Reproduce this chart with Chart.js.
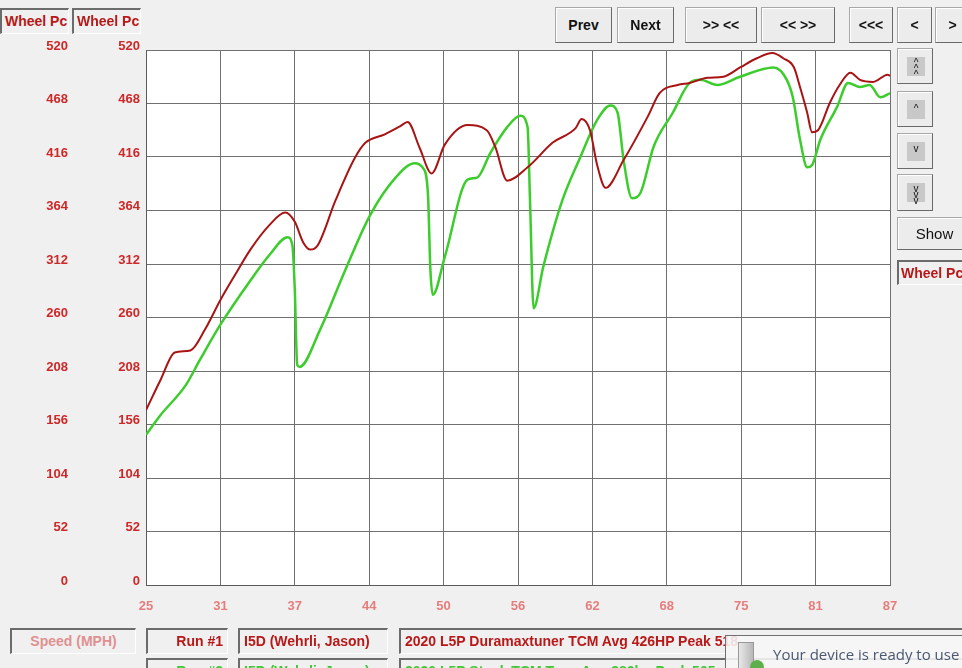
<!DOCTYPE html>
<html>
<head>
<meta charset="utf-8">
<script src="https://cdn.jsdelivr.net/npm/chart.js@4"></script>
<style>
  html, body { margin: 0; padding: 0; }
  body {
    width: 962px; height: 668px; overflow: hidden; position: relative;
    background: #f0f0f0; font-family: "Liberation Sans", Arial, sans-serif;
  }
  #dyno { position: absolute; left: 0; top: 0; }
  .box {
    position: absolute; box-sizing: border-box; background: #f0f0f0;
    border-top: 2px solid #6c6c6c; border-left: 2px solid #6c6c6c;
    border-bottom: 1px solid #ffffff; border-right: 1px solid #ffffff;
    font-weight: bold; font-size: 14px; line-height: 22px; padding: 0 4px;
    white-space: nowrap; overflow: hidden;
  }
  .red { color: #b81818; }
  .green { color: #3cc832; }
  .pink { color: #e09090; }
  .btn {
    position: absolute; box-sizing: border-box; background: #ececec;
    border: 1px solid #a8a8a8; border-bottom-color: #6a6a6a; border-right-color: #6a6a6a;
    box-shadow: inset 1px 1px 0 #ffffff;
    font-size: 14px; font-weight: bold; color: #111; text-align: center;
  }
  .sq {
    position: absolute; left: 9px; top: 8px; width: 18px; height: 19px; background: #c8c8c8;
    font-size: 10px; line-height: 6px; color: #111; font-weight: normal; padding-top: 3px; box-sizing: border-box;
  }
  #toast {
    position: absolute; left: 725px; top: 635px; width: 245px; height: 40px; box-sizing: border-box;
    border: 1px solid #707070; background: rgba(246,246,246,0.88);
  }
  #toast span {
    position: absolute; left: 47px; top: 8px; font-family: "Open Sans", "Noto Sans", sans-serif;
    font-size: 15px; color: #4a5870; white-space: nowrap;
  }
  #toast i {
    position: absolute; left: 12px; top: 6px; width: 14px; height: 30px;
    background: linear-gradient(90deg, #e8e8e8, #b8b8b8); border: 1px solid #999;
  }
  #toast b {
    position: absolute; left: 24px; top: 24px; width: 14px; height: 14px; border-radius: 7px; background: #5cb04a;
  }
</style>
</head>
<body>
<canvas id="dyno" width="962" height="668"></canvas>

<div class="box red" style="left:0;top:8px;width:69px;height:26px;padding-left:3px;">Wheel Pc</div>
<div class="box red" style="left:72px;top:8px;width:69px;height:26px;padding-left:3px;">Wheel Pc</div>

<div class="btn" style="left:555px;top:7px;width:57px;height:36px;line-height:34px;">Prev</div>
<div class="btn" style="left:617px;top:7px;width:57px;height:36px;line-height:34px;">Next</div>
<div class="btn" style="left:685px;top:7px;width:72px;height:36px;line-height:34px;">&gt;&gt; &lt;&lt;</div>
<div class="btn" style="left:761px;top:7px;width:74px;height:36px;line-height:34px;">&lt;&lt; &gt;&gt;</div>
<div class="btn" style="left:849px;top:7px;width:44px;height:36px;line-height:34px;">&lt;&lt;&lt;</div>
<div class="btn" style="left:897px;top:7px;width:35px;height:36px;line-height:34px;">&lt;</div>
<div class="btn" style="left:935px;top:7px;width:35px;height:36px;line-height:34px;">&gt;</div>

<div class="btn" style="left:897px;top:48px;width:36px;height:36px;"><div class="sq">^<br>^<br>^</div></div>
<div class="btn" style="left:897px;top:91px;width:36px;height:36px;"><div class="sq" style="padding-top:6px">^</div></div>
<div class="btn" style="left:897px;top:133px;width:36px;height:36px;"><div class="sq" style="padding-top:4px">v</div></div>
<div class="btn" style="left:897px;top:174px;width:36px;height:37px;"><div class="sq">v<br>v<br>v</div></div>
<div class="btn" style="left:897px;top:217px;width:75px;height:33px;line-height:31px;font-weight:normal;font-size:15px;">Show</div>
<div class="box red" style="left:897px;top:260px;width:70px;height:25px;padding-left:2px;">Wheel Pc</div>

<div class="box pink" style="left:10px;top:628px;width:126px;height:26px;text-align:center;">Speed (MPH)</div>
<div class="box red" style="left:146px;top:628px;width:82px;height:26px;text-align:right;">Run #1</div>
<div class="box red" style="left:238px;top:628px;width:150px;height:26px;">I5D (Wehrli, Jason)</div>
<div class="box red" style="left:399px;top:628px;width:580px;height:26px;">2020 L5P Duramaxtuner TCM Avg 426HP Peak 518</div>
<div class="box green" style="left:146px;top:658px;width:82px;height:26px;text-align:right;">Run #2</div>
<div class="box green" style="left:238px;top:658px;width:150px;height:26px;">I5D (Wehrli, Jason)</div>
<div class="box green" style="left:399px;top:658px;width:580px;height:26px;">2020 L5P Stock TCM Tune Avg 386hp Peak 505</div>

<div id="toast"><i></i><b></b><span>Your device is ready to use</span></div>

<script>
// speed (MPH) ticks shown under the graph
const speedTicks = [25, 31, 37, 44, 50, 56, 62, 68, 75, 81, 87];
// wheel power tick labels
const powerTicks = [0, 52, 104, 156, 208, 260, 312, 364, 416, 468, 520];

// Run #1 - Duramaxtuner TCM (red)
const run1Speed = [25.0, 26.2, 27.4, 28.7, 29.9, 31.2, 32.4, 33.7, 35.3, 36.6, 37.4, 38.1, 38.7, 39.3, 40.8, 42.4, 43.3, 44.9, 46.2, 46.8,
  47.8, 48.8, 49.9, 51.8, 53.4, 54.1, 55.1, 56.8, 58.9, 60.8, 61.3, 62.0, 62.6, 63.3, 64.8, 66.8, 67.8, 69.3, 70.3, 71.8,
  73.1, 74.5, 75.9, 77.2, 78.1, 79.0, 79.5, 80.1, 80.5, 81.0, 82.0, 82.8, 83.7, 84.5, 85.6, 86.8, 87.0];
const run1Power = [170, 199, 226, 228, 248, 277, 301, 326, 350, 362, 353, 333, 326, 330, 374, 415, 430, 438, 446, 450,
  425, 400, 428, 447, 442, 426, 393, 406, 430, 444, 453, 442, 408, 386, 413, 455, 478, 486, 488, 493,
  494, 503, 512, 517, 512, 503, 484, 459, 440, 442, 469, 486, 498, 491, 489, 496, 495];

// Run #2 - Stock TCM tune (green)
const run2Speed = [25.0, 26.2, 28.3, 29.5, 31.2, 33.7, 35.3, 36.8, 37.2, 37.4, 37.6, 37.8, 39.5, 41.6, 43.7, 45.8, 47.4, 48.1, 48.5, 48.7,
  48.9, 49.9, 51.8, 52.6, 53.7, 55.1, 56.2, 56.8, 57.0, 57.3, 58.1, 59.7, 61.2, 62.6, 63.7, 64.3, 64.8, 65.5, 66.2, 67.3,
  68.9, 70.3, 71.2, 72.6, 74.5, 77.3, 78.4, 78.9, 79.5, 80.1, 80.5, 81.2, 82.6, 83.5, 84.5, 85.3, 86.2, 87.0];
const run2Power = [146, 165, 194, 219, 253, 296, 321, 338, 330, 287, 214, 212, 248, 306, 360, 396, 410, 405, 379, 306,
  282, 319, 394, 396, 420, 445, 456, 445, 374, 269, 309, 374, 416, 452, 466, 459, 413, 376, 381, 426,
  459, 488, 491, 486, 494, 503, 491, 474, 433, 406, 408, 433, 465, 488, 484, 486, 474, 478];

const whiteArea = {
  id: 'whiteArea',
  beforeDraw(chart) {
    const { ctx, chartArea } = chart;
    ctx.save();
    ctx.fillStyle = '#ffffff';
    ctx.fillRect(chartArea.left, chartArea.top, chartArea.right - chartArea.left, chartArea.bottom - chartArea.top);
    ctx.restore();
  }
};

const yTicks = (axis) => {
  axis.ticks = powerTicks.map(v => ({ value: v }));
};

const ctx = document.getElementById('dyno').getContext('2d');
const dynoChart = new Chart(ctx, {
  type: 'scatter',
  data: {
    datasets: [
      {
        label: 'Run #1',
        data: run1Speed.map((s, i) => ({ x: s, y: run1Power[i] })),
        borderColor: 'rgb(168, 20, 20)',
        borderWidth: 2,
        showLine: true,
        pointRadius: 0,
        cubicInterpolationMode: 'monotone',
        yAxisID: 'y'
      },
      {
        label: 'Run #2',
        data: run2Speed.map((s, i) => ({ x: s, y: run2Power[i] })),
        borderColor: 'rgb(60, 205, 45)',
        borderWidth: 2.5,
        showLine: true,
        pointRadius: 0,
        cubicInterpolationMode: 'monotone',
        yAxisID: 'y'
      }
    ]
  },
  options: {
    responsive: false,
    animation: false,
    layout: { padding: { top: 50, right: 72, bottom: 53, left: 0 } },
    plugins: {
      legend: { display: false },
      tooltip: { enabled: false }
    },
    scales: {
      x: {
        type: 'linear',
        min: speedTicks[0],
        max: speedTicks[speedTicks.length - 1],
        afterBuildTicks: (axis) => {
          const step = (axis.max - axis.min) / (speedTicks.length - 1);
          axis.ticks = speedTicks.map((_, i) => ({ value: axis.min + i * step }));
        },
        afterFit: (axis) => { axis.height = 30; },
        ticks: {
          callback: (v, i) => speedTicks[i],
          color: 'rgb(230, 125, 125)',
          font: { family: 'Liberation Sans', size: 13, weight: 'bold' },
          padding: 14,
          maxRotation: 0,
          autoSkip: false
        },
        grid: { color: '#707070', drawTicks: false },
        border: { color: '#5a5a5a', width: 1 }
      },
      y: {
        position: 'left',
        weight: 0,
        min: 0,
        max: 520,
        afterBuildTicks: yTicks,
        afterFit: (axis) => { axis.width = 74; },
        ticks: {
          color: 'rgb(205, 40, 40)',
          font: { family: 'Liberation Sans', size: 13, weight: 'bold' },
          padding: 6,
          labelOffset: -4
        },
        grid: { color: '#707070', drawTicks: false },
        border: { color: '#5a5a5a', width: 1 }
      },
      y1: {
        position: 'left',
        weight: 1,
        min: 0,
        max: 520,
        afterBuildTicks: yTicks,
        afterFit: (axis) => { axis.width = 72; },
        ticks: {
          color: 'rgb(205, 40, 40)',
          font: { family: 'Liberation Sans', size: 13, weight: 'bold' },
          padding: 4,
          labelOffset: -4
        },
        grid: { display: false, drawTicks: false },
        border: { display: false }
      }
    }
  },
  plugins: [whiteArea]
});
</script>
</body>
</html>
